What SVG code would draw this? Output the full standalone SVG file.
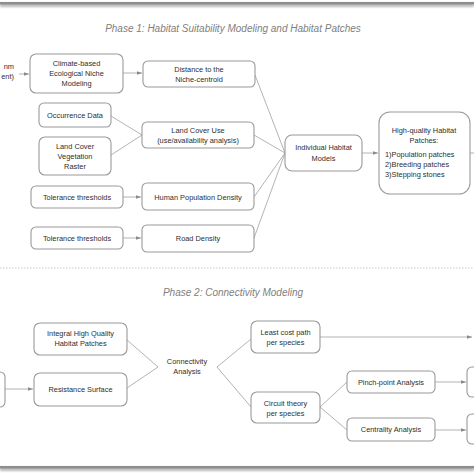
<svg xmlns="http://www.w3.org/2000/svg" width="474" height="474" viewBox="0 0 474 474">
<defs>
<marker id="ah" viewBox="0 0 6 6" refX="6" refY="3" markerWidth="5" markerHeight="5" orient="auto" markerUnits="userSpaceOnUse">
<path d="M0,0.8 L6,3 L0,5.2 Z" fill="#8a8a8a"/>
</marker>
<filter id="sh" x="-5%" y="-50%" width="110%" height="300%"><feGaussianBlur stdDeviation="0.8"/></filter>
</defs>
<style>
.box{fill:#fff;stroke:#9a9a9a;stroke-width:1.1}
.t{font-family:"Liberation Sans",Arial,sans-serif;font-size:7.4px;fill:#2e2e2e;text-anchor:middle}
.tl{font-family:"Liberation Sans",Arial,sans-serif;font-size:7.4px;fill:#2e2e2e}
.ph{font-family:"Liberation Sans",Arial,sans-serif;font-size:10px;font-style:italic;fill:#808080;text-anchor:middle}
.c{fill:none;stroke:#a0a0a0;stroke-width:0.8}
.a{fill:none;stroke:#a0a0a0;stroke-width:0.8;marker-end:url(#ah)}
</style>
<rect width="474" height="474" fill="#fff"/>
<!-- frame -->
<rect x="0" y="3" width="474" height="4" fill="#bbb" filter="url(#sh)"/>
<rect x="0" y="2" width="474" height="2.5" fill="#8d8d8d"/>
<rect x="0" y="467" width="474" height="4" fill="#bbb" filter="url(#sh)"/>
<rect x="0" y="466" width="474" height="2.5" fill="#8d8d8d"/>
<line x1="0" y1="268" x2="474" y2="268" stroke="#c8c8c8" stroke-width="1" stroke-dasharray="1.5,1.5"/>
<text class="ph" x="233" y="32">Phase 1: Habitat Suitability Modeling and Habitat Patches</text>
<text class="ph" x="233" y="296">Phase 2: Connectivity Modeling</text>

<g id="connectors">
<path class="a" d="M19,74 H29"/>
<path class="a" d="M123,73 H142"/>
<path class="c" d="M111,116 L142,135 M111,155 L142,135"/>
<path class="a" d="M123,197 H141"/>
<path class="a" d="M123,238 H141"/>
<path class="c" d="M255,75 L285,153 M254,135 L285,153 M254,197 L285,153 M254,238 L285,153"/>
<path class="a" d="M362,153 H378"/>
<path class="c" d="M470,153 H474"/>
<path class="a" d="M5,389 H33"/>
<path class="c" d="M127,340 L158,367 M127,388 L158,367"/>
<path class="c" d="M251,339 L217,367 L251,407"/>
<path class="a" d="M320,337 H472"/>
<path class="c" d="M320,407 L347,382 M320,407 L347,430"/>
<path class="a" d="M435,382 H466"/>
<path class="a" d="M435,430 H466"/>
</g>

<g id="left-cut-top">
<text class="tl" x="14" y="69" style="text-anchor:end">nm</text>
<text class="tl" x="14" y="79" style="text-anchor:end">ent)</text>
</g>
<g id="climate"><rect class="box" x="30" y="54" width="93" height="39" rx="6"/>
<text class="t" x="76.5" y="66">Climate-based</text><text class="t" x="76.5" y="76">Ecological Niche</text><text class="t" x="76.5" y="86">Modeling</text></g>
<g id="distance"><rect class="box" x="143" y="61" width="112" height="26" rx="5"/>
<text class="t" x="199" y="72">Distance to the</text><text class="t" x="199" y="82">Niche-centroid</text></g>
<g id="occurrence"><rect class="box" x="39" y="103" width="72" height="24" rx="5"/>
<text class="t" x="75" y="118">Occurrence Data</text></g>
<g id="landcover"><rect class="box" x="39" y="137" width="72" height="38" rx="6"/>
<text class="t" x="75" y="149">Land Cover</text><text class="t" x="75" y="159">Vegetation</text><text class="t" x="75" y="169">Raster</text></g>
<g id="landuse"><rect class="box" x="142" y="122" width="112" height="26" rx="5"/>
<text class="t" x="198" y="133">Land Cover Use</text><text class="t" x="198" y="143">(use/availability analysis)</text></g>
<g id="tol1"><rect class="box" x="31" y="186" width="92" height="22" rx="5"/>
<text class="t" x="77" y="199.5">Tolerance thresholds</text></g>
<g id="hpd"><rect class="box" x="142" y="183" width="112" height="27" rx="5"/>
<text class="t" x="198" y="199.5">Human Population Density</text></g>
<g id="tol2"><rect class="box" x="31" y="227" width="92" height="22" rx="5"/>
<text class="t" x="77" y="240.5">Tolerance thresholds</text></g>
<g id="road"><rect class="box" x="142" y="225" width="112" height="27" rx="5"/>
<text class="t" x="198" y="241">Road Density</text></g>
<g id="individual"><rect class="box" x="285" y="135" width="77" height="36" rx="7"/>
<text class="t" x="323.5" y="150">Individual Habitat</text><text class="t" x="323.5" y="161">Models</text></g>
<g id="highquality"><rect class="box" x="379" y="112" width="91" height="82" rx="11"/>
<text class="t" x="424" y="133">High-quality Habitat</text><text class="t" x="424" y="143">Patches:</text>
<text class="tl" x="385" y="157">1)Population patches</text><text class="tl" x="385" y="167">2)Breeding patches</text><text class="tl" x="385" y="177">3)Stepping stones</text></g>

<g id="left-cut-bottom"><rect class="box" x="-20" y="372" width="25" height="35" rx="5"/></g>
<g id="integral"><rect class="box" x="34" y="323" width="93" height="32" rx="6"/>
<text class="t" x="80.5" y="336">Integral High Quality</text><text class="t" x="80.5" y="346">Habitat Patches</text></g>
<g id="resistance"><rect class="box" x="34" y="373" width="93" height="33" rx="6"/>
<text class="t" x="80.5" y="392">Resistance Surface</text></g>
<g id="connectivity">
<text class="t" x="187" y="364">Connectivity</text><text class="t" x="187" y="374">Analysis</text></g>
<g id="leastcost"><rect class="box" x="251" y="321" width="69" height="32" rx="6"/>
<text class="t" x="285.5" y="335">Least cost path</text><text class="t" x="285.5" y="345">per species</text></g>
<g id="circuit"><rect class="box" x="251" y="392" width="69" height="31" rx="6"/>
<text class="t" x="285.5" y="406">Circuit theory</text><text class="t" x="285.5" y="416">per species</text></g>
<g id="pinch"><rect class="box" x="347" y="371" width="88" height="22" rx="5"/>
<text class="t" x="391" y="384.5">Pinch-point Analysis</text></g>
<g id="centrality"><rect class="box" x="347" y="418" width="88" height="23" rx="5"/>
<text class="t" x="391" y="432">Centrality Analysis</text></g>
<g id="right-cut-1"><rect class="box" x="467" y="367" width="20" height="30" rx="5"/></g>
<g id="right-cut-2"><rect class="box" x="467" y="414" width="20" height="30" rx="5"/></g>
</svg>
